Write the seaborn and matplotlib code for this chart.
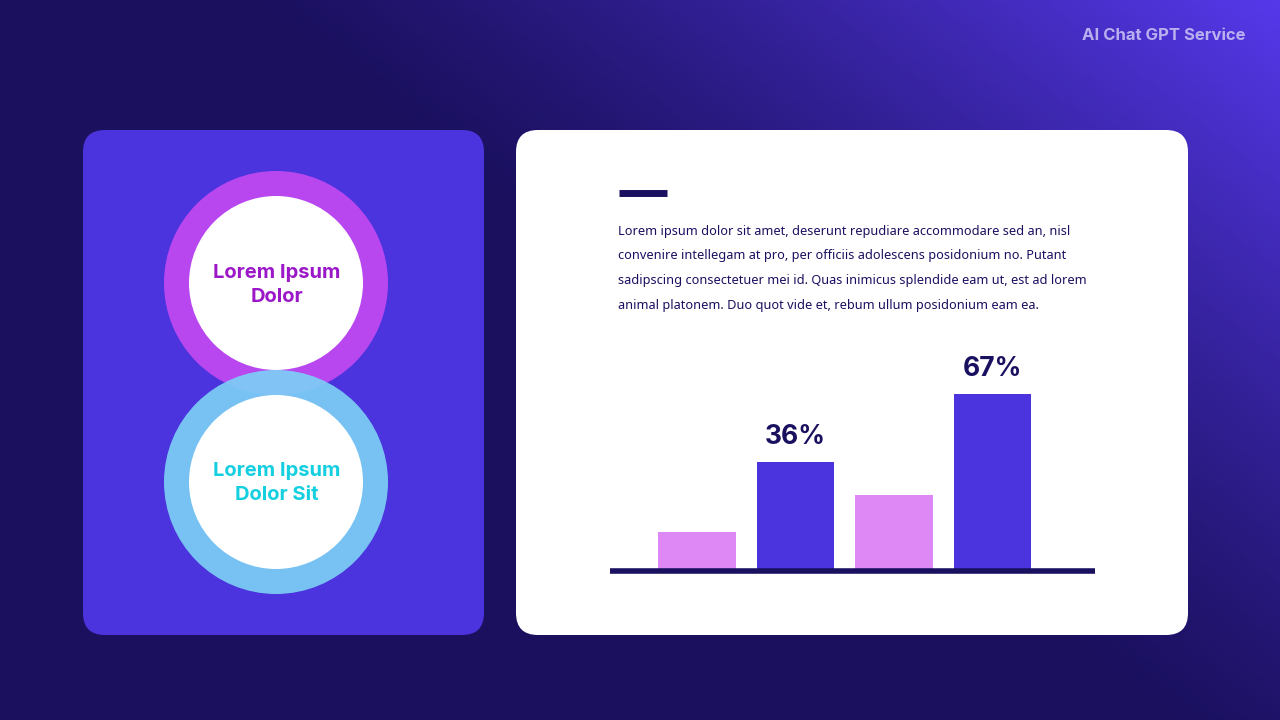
import numpy as np
import pandas as pd
import matplotlib.pyplot as plt
import seaborn as sns
from matplotlib.patches import FancyBboxPatch, Circle

# --- data ---
bar_labels = ['A', 'B', 'C', 'D']
bar_values = [4, 36, 21, 67]
bar_shown = ['', '36%', '', '67%']
bar_colors = ['#dd88f5', '#4b33dd', '#dd88f5', '#4b33dd']
paragraph = ["Lorem ipsum dolor sit amet, deserunt repudiare accommodare sed an, nisl",
             "convenire intellegam at pro, per officiis adolescens posidonium no. Putant",
             "sadipscing consectetuer mei id. Quas inimicus splendide eam ut, est ad lorem",
             "animal platonem. Duo quot vide et, rebum ullum posidonium eam ea."]

fig = plt.figure(figsize=(12.8, 7.2), dpi=100)
bg = fig.add_axes([0, 0, 1, 1])
bg.set_xlim(0, 1280); bg.set_ylim(720, 0); bg.axis('off')

# gradient background (dark navy -> purple top-right)
xx, yy = np.meshgrid(np.linspace(0, 1, 256), np.linspace(0, 1, 144))
t = np.clip((xx - 0.35) * 1.25 - yy * 0.9 + 0.2, 0, 1) ** 1.2
c0 = np.array([0x1a, 0x10, 0x5e]) / 255
c1 = np.array([0x55, 0x38, 0xe8]) / 255
img = c0 + (c1 - c0) * t[..., None]
bg.imshow(img, extent=[0, 1280, 720, 0], aspect='auto', zorder=0)

bg.text(1245, 36, 'AI Chat GPT Service', color='#b9b0ef', fontsize=12,
        fontweight='bold', family='Inter', ha='right', va='center')

# left panel
bg.add_patch(FancyBboxPatch((83 + 22, 130 + 22), 401 - 44, 505 - 44,
             boxstyle='round,pad=22', fc='#4b33dd', ec='none', zorder=1))
bg.add_patch(Circle((276, 283), 112, fc='#b847f0', ec='none', zorder=2))
bg.add_patch(Circle((276, 482), 112, fc='#7ccff5', ec='none', alpha=0.92, zorder=3))
bg.add_patch(Circle((276, 283), 87, fc='white', ec='none', zorder=4))
bg.add_patch(Circle((276, 482), 87, fc='white', ec='none', zorder=4))
bg.text(277, 285, 'Lorem Ipsum\nDolor', color='#9b17c8', fontsize=14.5, fontweight='bold',
        family='Inter', ha='center', va='center', linespacing=1.5, zorder=5)
bg.text(277, 483, 'Lorem Ipsum\nDolor Sit', color='#14cfe0', fontsize=14.5, fontweight='bold',
        family='Inter', ha='center', va='center', linespacing=1.5, zorder=5)

# right panel
bg.add_patch(FancyBboxPatch((516 + 22, 130 + 22), 672 - 44, 505 - 44,
             boxstyle='round,pad=22', fc='white', ec='none', zorder=1))
bg.plot([619, 667], [193, 193], color='#1a1060', lw=5, solid_capstyle='butt', zorder=2)
for i, line in enumerate(paragraph):
    bg.text(618, 231 + i * 24.7, line, color='#1a1060', fontsize=9.2,
            family='Noto Sans', va='center', zorder=2)

# bar chart axes: baseline at y=571, x 610..1095
ax = fig.add_axes([610 / 1280, 1 - 571 / 720, 485 / 1280, 241 / 720])
base = -13.7
df = pd.DataFrame({'cat': bar_labels, 'val': bar_values})
sns.barplot(data=df, x='cat', y='val', hue='cat', palette=bar_colors,
            legend=False, width=0.79, ax=ax, saturation=1)
for p, v in zip(ax.patches, bar_values):
    p.set_y(base)
    p.set_height(v - base)
ax.set_xlim(-0.883, 4.04)
ax.set_ylim(base, 96)
for i, (v, s) in enumerate(zip(bar_values, bar_shown)):
    if s:
        ax.text(i, v + 5.5, s, ha='center', va='bottom', color='#1a1060',
                fontsize=19, fontweight='bold', family='Inter')
ax.plot([-0.883, 4.04], [base, base], color='#1a1060', lw=4,
        solid_capstyle='butt', clip_on=False)
ax.axis('off')
ax.patch.set_alpha(0)

fig.savefig('out.png', dpi=100)
